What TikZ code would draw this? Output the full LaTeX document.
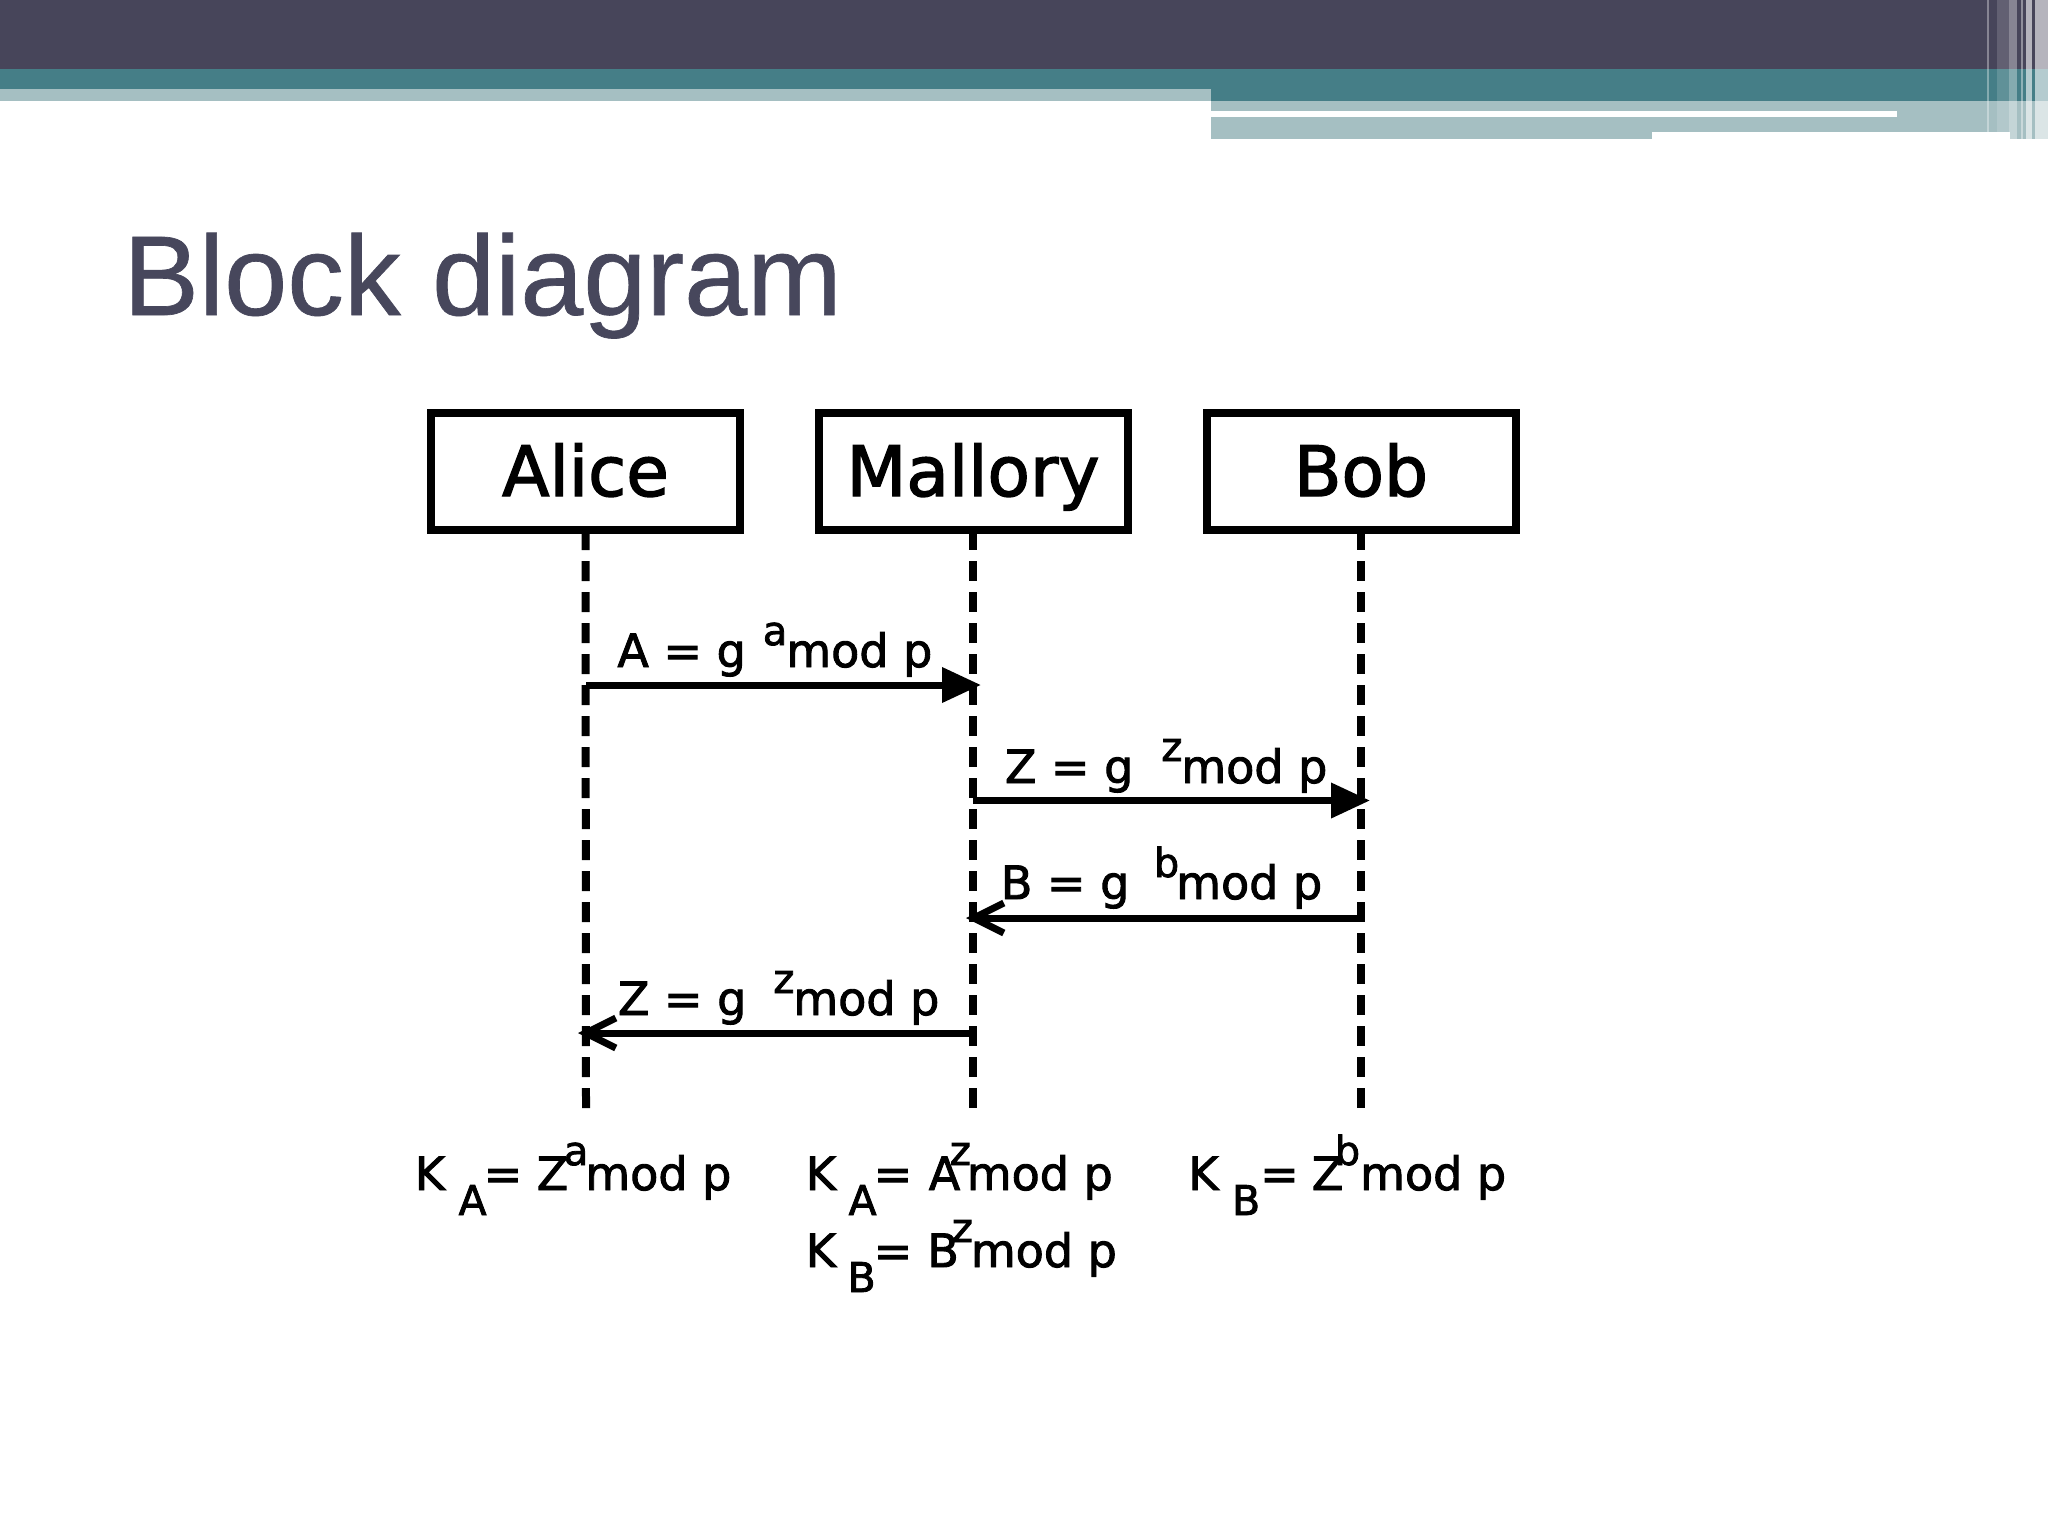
\documentclass[tikz,border=0pt]{standalone}
\usepackage{fontspec}
\setmainfont{DejaVu Sans}[FakeBold=2]
\newfontfamily\titlefont{Liberation Sans}[FakeBold=.6]
\usetikzlibrary{arrows.meta}
\definecolor{hdark}{HTML}{47455A}
\definecolor{hteal}{HTML}{457E87}
\definecolor{hlight}{HTML}{A5BFC2}
\definecolor{titlecol}{HTML}{47475C}
\newcommand{\supr}[2][11pt]{\raisebox{#1}{\fontsize{20}{20}\selectfont #2}}
\newcommand{\subr}[1]{\raisebox{-12.5pt}{\fontsize{20.5}{20.5}\selectfont #1}}
\tikzset{
  band/.style={fill=#1,draw=none},
  veil/.style={fill=white,fill opacity=#1,draw=none},
  actor/.style={draw=black,line width=4pt,fill=white,minimum width=154.5pt,minimum height=58.5pt,inner sep=0pt,font=\fontsize{34.7}{36}\selectfont,text height=30pt,text depth=5.5pt},
  lifeline/.style={draw=black,line width=4pt,dash pattern=on 10pt off 5.5pt},
  msgfill/.style={draw=black,line width=3.5pt,-{Triangle[length=19.5pt,width=17pt]}},
  msgopen/.style={draw=black,line width=3.5pt,-{Straight Barb[length=15pt,width=15pt,line width=3.5pt]}},
  lbl/.style={anchor=base west,inner sep=0pt,font=\fontsize{23}{24}\selectfont},
}
\begin{document}
\begin{tikzpicture}[x=.5pt,y=-.5pt]
\useasboundingbox[fill=white] (0,0) rectangle (2048,1536);
% header
\fill[band=hdark] (0,0) rectangle (2048,69);
\fill[band=hteal] (0,69) rectangle (2048,101);
\fill[band=hlight] (0,89) rectangle (1211,101);
\fill[band=hlight] (1211,101) rectangle (2048,139);
\fill[white] (1211,111) rectangle (1897,117);
\fill[white] (1652,132) rectangle (2010,139);
\fill[veil=.35] (1987,0) rectangle (1989,132);
\fill[veil=.15] (1997,0) rectangle (2009,132);
\fill[veil=.35] (2009,0) rectangle (2017,139);
\fill[veil=.4] (2021,0) rectangle (2023,139);
\fill[veil=.6] (2026,0) rectangle (2032,139);
\fill[veil=.6] (2035,0) rectangle (2048,139);
% title
\node[anchor=base west,inner sep=0pt,text=titlecol,font=\titlefont\fontsize{56.7}{60}\selectfont] (title) at (123,315) {Block diagram};
% actors
\node[actor] (alice) at (585.5,471.5) {Alice};
\node[actor] (mallory) at (973,471.5) {Mallory};
\node[actor] (bob) at (1361,471.5) {Bob};
% lifeline ends
\coordinate (aend) at (586,1108);
\coordinate (mend) at (973,1108);
\coordinate (bend) at (1361,1108);
\draw[lifeline] ([yshift=2pt]alice.south) -- (aend);
\draw[lifeline] ([yshift=2pt]mallory.south) -- (mend);
\draw[lifeline] ([yshift=2pt]bob.south) -- (bend);
% message ends
\coordinate (a1) at (586,685);
\coordinate (m1) at (981,685);
\coordinate (m2) at (973,800.5);
\coordinate (b2) at (1370,800.5);
\coordinate (b3) at (1361,918);
\coordinate (m3) at (966,918);
\coordinate (m4) at (973,1033);
\coordinate (a4) at (578,1033);
\draw[msgfill] (a1) -- (m1);
\draw[msgfill] (m2) -- (b2);
\draw[msgopen] (b3) -- (m3);
\draw[msgopen] (m4) -- (a4);
% message labels
\node[lbl] (l1) at (617,667) {A = g\kern8.5pt\supr{a}\kern-.5pt mod p};
\node[lbl] (l2) at (1004.5,783) {Z = g\kern14pt\supr{z}\kern-.5pt mod p};
\node[lbl] (l3) at (1000.5,899) {B = g\kern12.2pt\supr{b}\kern-1.5pt mod p};
\node[lbl] (l4) at (617.5,1015) {Z = g\kern13.5pt\supr{z}\kern-.5pt mod p};
% key labels
\node[lbl] (k1) at (414.5,1190) {K\kern6.75pt\subr{A}\kern-1.5pt= Z\kern-2.2pt\supr[12.5pt]{a}\kern-1.5pt mod p};
\node[lbl] (k2) at (805.5,1190) {K\kern6.25pt\subr{A}\kern-1.5pt= \kern1pt A\kern-5.2pt\supr[12.5pt]{z}\kern-2pt mod p};
\node[lbl] (k3) at (805.5,1267) {K\kern5.75pt\subr{B}\kern-1pt= \kern.25pt B\kern-3.5pt\supr[12.5pt]{z}\kern-1pt mod p};
\node[lbl] (k4) at (1188,1190) {K\kern6.75pt\subr{B}= \kern-.75pt Z\kern-4.3pt\supr[12.5pt]{b}mod p};
\end{tikzpicture}
\end{document}
